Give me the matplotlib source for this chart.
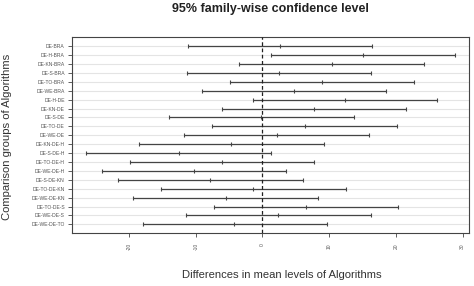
import matplotlib
matplotlib.use("Agg")
import matplotlib.pyplot as plt

groups = ["DE-BRA", "DE-H-BRA", "DE-KN-BRA", "DE-S-BRA", "DE-TO-BRA", "DE-WE-BRA",
          "DE-H-DE", "DE-KN-DE", "DE-S-DE", "DE-TO-DE", "DE-WE-DE",
          "DE-KN-DE-H", "DE-S-DE-H", "DE-TO-DE-H", "DE-WE-DE-H",
          "DE-S-DE-KN", "DE-TO-DE-KN", "DE-WE-DE-KN",
          "DE-TO-DE-S", "DE-WE-DE-S", "DE-WE-DE-TO"]
lower = [-11.1, 1.25, -3.45, -11.3, -4.85, -9.0, -1.35, -6.05, -13.95, -7.5, -11.7,
         -18.5, -26.4, -19.85, -24.0, -21.6, -15.2, -19.4, -7.3, -11.5, -17.95]
diff = [2.65, 15.05, 10.35, 2.45, 8.9, 4.75, 12.4, 7.7, -0.15, 6.4, 2.15,
        -4.7, -12.5, -6.05, -10.25, -7.85, -1.35, -5.5, 6.55, 2.25, -4.2]
upper = [16.4, 28.8, 24.15, 16.2, 22.7, 18.5, 26.15, 21.5, 13.65, 20.1, 15.9,
         9.15, 1.25, 7.7, 3.5, 6.0, 12.45, 8.25, 20.3, 16.2, 9.65]
xticks = [-20, -10, 0, 10, 20, 30]

plt.rcParams['font.family'] = ['Liberation Sans', 'DejaVu Sans']

fig = plt.figure(figsize=(4.74, 2.86), dpi=100)
ax = fig.add_axes([71.7/474, 1 - 233.3/286, (469.3 - 71.7)/474, (233.3 - 37.3)/286])

n = len(groups)
ypos = list(range(n))
for y in ypos:
    ax.axhline(y, color='#e4e4e4', lw=0.8, zorder=0)

ax.hlines(ypos, lower, upper, color='#444444', lw=0.9, zorder=2)
ax.plot(lower, ypos, '|', color='#444444', ms=3, mew=0.8, zorder=3)
ax.plot(upper, ypos, '|', color='#444444', ms=3, mew=0.8, zorder=3)
ax.plot(diff, ypos, '|', color='#444444', ms=3, mew=0.8, zorder=3)
ax.axvline(0, color='#222222', lw=0.9, ls=(0, (3, 2)), zorder=4)

ax.set_xlim(-28.6, 31.0)
ax.set_ylim(n - 1 + 1.0, -1.0)
ax.set_yticks(ypos)
ax.set_yticklabels(groups, fontsize=3.6, color='#555555')
ax.set_xticks(xticks)
ax.set_xticklabels([str(t) for t in xticks], fontsize=3.6, color='#555555', rotation=90)
ax.tick_params(axis='both', length=3, width=0.6, color='#444444', pad=2)
ax.tick_params(axis='x', pad=4)
for s in ax.spines.values():
    s.set_color('#444444')
    s.set_linewidth(0.8)

fig.text(270/474, 1 - 9/286, "95% family-wise confidence level", ha='center', va='center',
         fontsize=9, fontweight='bold', color='#222222')
fig.text(282/474, 1 - 275/286, "Differences in mean levels of Algorithms", ha='center', va='center',
         fontsize=8.1, color='#333333')
fig.text(7/474, 1 - 137/286, "Comparison groups of Algorithms", ha='center', va='center',
         rotation=90, fontsize=8.1, color='#333333')

fig.savefig("out.png", dpi=100)
